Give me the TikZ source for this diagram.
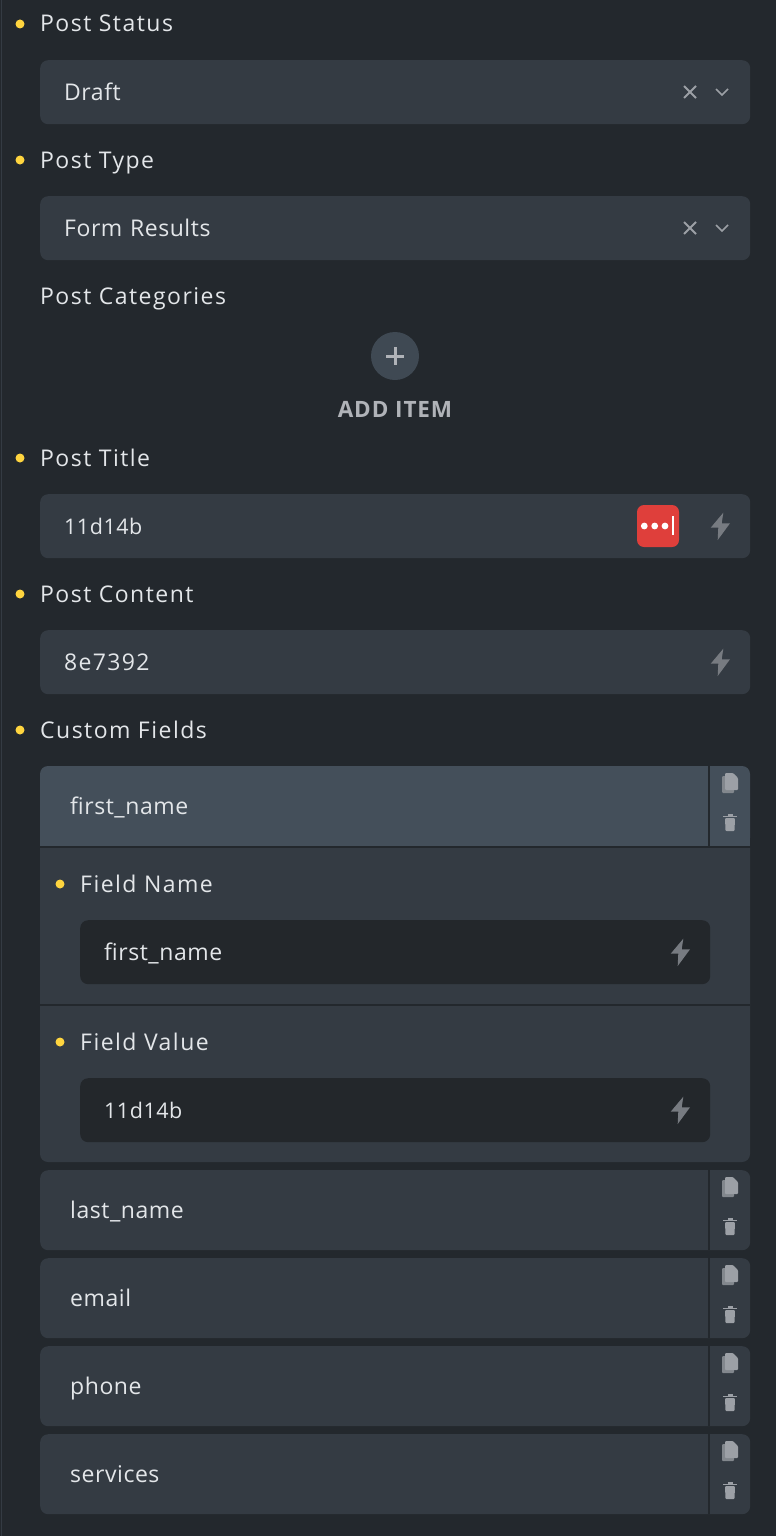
\documentclass[tikz,border=0pt]{standalone}
\usepackage{fontspec}
\setmainfont{Open Sans}
\usetikzlibrary{positioning}
\definecolor{panelbg}{HTML}{23282D}
\definecolor{boxbg}{HTML}{343B43}
\definecolor{headbg}{HTML}{444F5A}
\definecolor{wellbg}{HTML}{23272B}
\definecolor{labeltxt}{HTML}{E3E6E9}
\definecolor{dotyellow}{HTML}{FFD53F}
\definecolor{icongray}{HTML}{777B81}
\definecolor{toolgray}{HTML}{9CA0A6}
\definecolor{passred}{HTML}{DF3F3B}
\newcommand{\labelfont}{\fontsize{23}{28}\selectfont\addfontfeature{LetterSpace=6.4}}
\newcommand{\valuefont}{\fontsize{23}{28}\selectfont\addfontfeature{LetterSpace=2.4}}
\newcommand{\digitfont}{\fontsize{21.5}{28}\selectfont}
\tikzstyle{label}=[anchor=west,inner sep=0pt,text=labeltxt,font=\labelfont,text height=19pt,text depth=3pt]
\tikzstyle{rowlabel}=[label,font=\valuefont]
\tikzstyle{bullet}=[circle,fill=dotyellow,minimum size=9pt,inner sep=0pt]
\tikzstyle{fieldbox}=[anchor=north west,fill=boxbg,rounded corners=8pt,minimum height=64pt,text width=662pt,inner xsep=24pt,inner ysep=0pt,text=labeltxt,font=\valuefont,text height=19pt,text depth=3pt]
\tikzstyle{wellbox}=[fieldbox,fill=wellbg,text width=582pt]
\tikzstyle{rowbox}=[fieldbox,minimum height=80pt,text width=650pt,inner xsep=30pt]
\tikzstyle{divider}=[draw=panelbg,line width=2pt]
\tikzset{
  bolt/.pic={\fill[icongray] (3.3,-13.3) -- (-9.3,1.7) -- (-1.7,1.7) -- (-2.3,14) -- (10,-2.7) -- (1.7,-2.7) -- cycle;},
  clearx/.pic={\draw[toolgray,line width=2pt] (-6,-6) -- (6,6) (-6,6) -- (6,-6);},
  chevron/.pic={\draw[toolgray,line width=1.6pt] (-6,-3) -- (0,3) -- (6,-3);},
  copyicon/.pic={
    \fill[toolgray!75!boxbg,rounded corners=1pt] (-8,-7) rectangle (4,10);
    \fill[toolgray,rounded corners=1pt] (-5,-10) -- (3,-10) -- (8,-5) -- (8,7) -- (-5,7) -- cycle;},
  trashicon/.pic={
    \fill[toolgray] (-7,-7.5) rectangle (7,-6);
    \fill[toolgray] (-2.5,-9) rectangle (2.5,-7.5);
    \fill[toolgray,rounded corners=1pt] (-5,-5) -- (5,-5) -- (4.5,8) -- (-4.5,8) -- cycle;}
}
\begin{document}
\begin{tikzpicture}[x=1pt,y=-1pt]
  \useasboundingbox (0,0) rectangle (776,1536);
  \fill[panelbg] (0,0) rectangle (776,1536);
  \draw[boxbg,line width=1pt] (1,0) -- (1,1536);

  % open repeater row
  \fill[boxbg,rounded corners=8pt] (40,840) rectangle (750,1162);
  \fill[boxbg] (40,840) rectangle (750,860);
  \fill[headbg,rounded corners=8pt] (40,846) -- (40,766) -- (750,766) -- (750,846) -- cycle;
  \fill[headbg] (40,830) rectangle (750,846);
  \node[rowlabel] (firstname) at (70,806) {first\_name};
  \draw[divider] (40,847) -- (750,847);
  \draw[divider] (709,766) -- (709,847);
  \draw[divider] (40,1005) -- (750,1005);

  % labels of the form
  \foreach \pos/\name/\txt in {{40,24/status/Post Status}, {40,160/type/Post Type}, {40,296/categories/Post Categories}, {40,458/title/Post Title}, {40,594/content/Post Content}, {40,730/custom/Custom Fields}, {80,884/fieldname/Field Name}, {80,1042/fieldvalue/Field Value}}
      \node[label] (\name) at (\pos) {\txt};
  \foreach \pos/\name in {{20,24/bs}, {20,160/bt}, {20,458/bp}, {20,594/bc}, {20,730/bf}, {60,884/bn}, {60,1042/bv}}
      \node[bullet] (\name) at (\pos) {};

  % plain fields
  \foreach \y/\name/\txt in {60/statusbox/Draft, 196/typebox/Form Results, 494/titlebox/{\digitfont 11d14b}, 630/contentbox/{\addfontfeature{LetterSpace=5.8}8e7392}}
      \node[fieldbox] (\name) at (40,\y) {\txt};
  \foreach \y in {92,228} {
      \pic at (690,\y) {clearx};
      \pic at (722,\y) {chevron};
  }
  \foreach \y in {526,662}
      \pic at (720,\y) {bolt};

  % add item
  \node[circle,fill=headbg!85!panelbg,minimum size=48pt,inner sep=0pt] (addbtn) at (395,356) {};
  \draw[toolgray!80!white,line width=3pt] (addbtn.center) +(-9,0) -- +(9,0) (addbtn.center) +(0,-9) -- +(0,9);
  \node[below=21pt of addbtn,inner sep=0pt,text=toolgray!80!white,font=\fontsize{22.5}{26}\selectfont\bfseries\addfontfeature{LetterSpace=4},text height=16pt,text depth=0pt] (additem) {ADD ITEM};

  % password manager badge
  \node[fill=passred,rounded corners=7pt,minimum size=42pt,inner sep=0pt] (badge) at (658,526) {};
  \foreach \x in {-13.7,-3.3,7}
      \fill[white] (badge.center) ++(\x,0) circle (3.4pt);
  \fill[white] (672.3,515.5) rectangle (674.3,535);

  % fields inside the open row
  \node[wellbox] (namebox) at (80,920) {first\_name};
  \node[wellbox] (valuebox) at (80,1078) {\digitfont 11d14b};
  \foreach \y in {952,1110}
      \pic at (680,\y) {bolt};

  % closed repeater rows
  \foreach \y/\name/\txt in {1170/lastname/last\_name, 1258/email/email, 1346/phone/phone, 1434/services/services}
      \node[rowbox] (\name) at (40,\y) {\txt};
  \foreach \name in {lastname,email,phone,services}
      \draw[divider] (\name.north west) ++(669,0) -- ++(0,80);
  \foreach \y in {766,1170,1258,1346,1434} {
      \pic at (730,\y+17) {copyicon};
      \pic at (730,\y+57) {trashicon};
  }
\end{tikzpicture}
\end{document}
